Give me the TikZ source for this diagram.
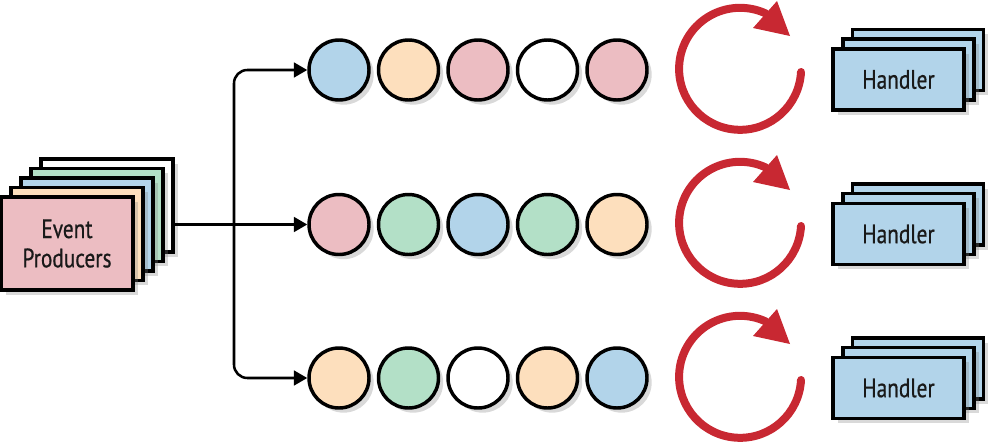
\documentclass[tikz,border=0pt]{standalone}
\usepackage{fontspec}
\newfontfamily\lblfont[FakeStretch=0.8,FakeBold=0.6]{PT Sans}
\usetikzlibrary{arrows.meta,shadows}
\definecolor{cpink}{RGB}{236,189,194}
\definecolor{cpeach}{RGB}{253,223,189}
\definecolor{cblue}{RGB}{178,212,234}
\definecolor{cgreen}{RGB}{179,224,199}
\definecolor{cred}{RGB}{200,40,50}
\definecolor{ctext}{RGB}{25,25,25}
\tikzset{
  shade/.style={drop shadow={opacity=0.3, shadow xshift=3.5pt, shadow yshift=-3.5pt}},
  prodbox/.style={draw=black, line width=2.5pt, minimum width=99pt, minimum height=69.75pt, inner sep=0pt, shade},
  handbox/.style={draw=black, line width=2.5pt, minimum width=98.25pt, minimum height=45.75pt, inner sep=0pt, fill=cblue, shade},
  ev/.style={circle, draw=black, line width=2.6pt, minimum size=45pt, inner sep=0pt, shade},
  conn/.style={draw=black, line width=1.9pt, -{Triangle[length=10pt, width=11pt]}},
  loopline/.style={draw=cred, line width=6pt, line cap=round},
  lbl/.style={font=\lblfont\fontsize{20pt}{23pt}\selectfont, text=ctext, align=center}
}
\begin{document}
\begin{tikzpicture}[x=0.75pt,y=-0.75pt]
\useasboundingbox (0,0) rectangle (992,443);
% Event producers stack
\node[prodbox, fill=white] (pw) at (107,205.5) {};
\node[prodbox, fill=cgreen] (pg) at (97,215) {};
\node[prodbox, fill=cblue] (pb) at (87,224.5) {};
\node[prodbox, fill=cpeach] (pt) at (77,234) {};
\node[prodbox, fill=cpink, lbl] (prod) at (67,243.5) {Event\\[-1pt]Producers};
% event circles
\foreach \c [count=\i] in {cblue,cpeach,cpink,white,cpink}
  \node[ev, fill=\c] (a\i) at ({339+69.5*(\i-1)},70) {};
\foreach \c [count=\i] in {cpink,cgreen,cblue,cgreen,cpeach}
  \node[ev, fill=\c] (b\i) at ({339+69.5*(\i-1)},224.5) {};
\foreach \c [count=\i] in {cpeach,cgreen,white,cpeach,cblue}
  \node[ev, fill=\c] (c\i) at ({339+69.5*(\i-1)},378) {};
% connectors
\coordinate (j) at (234,224.5);
\draw[conn] (pw.east |- b1) -- (b1);
\draw[conn, rounded corners=10pt] (j) |- (a1);
\draw[conn, rounded corners=10pt] (j) |- (c1);
% loops
\foreach \dy in {0,154,308}{
  \draw[loopline] (801,{72+\dy}) arc[start angle=3, end angle=295, radius=61];
  \fill[cred] (777,{1+\dy}) -- (753,{28+\dy}) -- (790,{36+\dy}) -- cycle;
}
% handlers
\foreach \r/\y in {1/79.5,2/234,3/388}{
  \node[handbox] (h\r c) at (918,{\y-19.5}) {};
  \node[handbox] (h\r b) at (908.5,{\y-10}) {};
  \node[handbox, lbl] (h\r) at (898.5,\y) {Handler};
}
\end{tikzpicture}
\end{document}
